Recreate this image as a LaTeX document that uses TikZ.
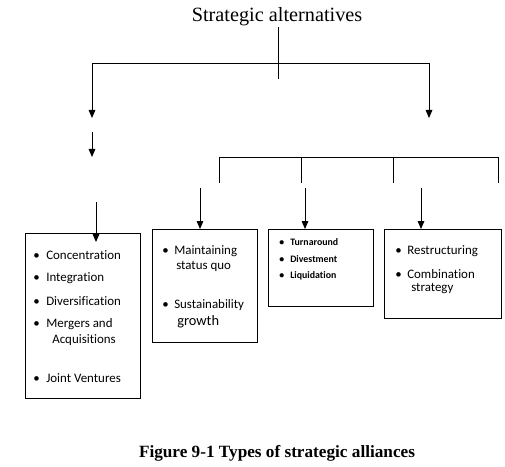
\documentclass[tikz,border=0pt]{standalone}
\usepackage{fontspec}
\setmainfont{Liberation Serif}
\newfontfamily\boxfont[Ligatures=NoCommon]{Carlito}
\usetikzlibrary{arrows.meta}
\newlength{\du}
\setlength{\du}{0.75pt}
\tikzset{
  conn/.style={line width=0.9\du},
  arr/.style={conn,-{Triangle[length=6pt,width=5pt]}},
  sbox/.style={draw,line width=0.9\du,rectangle,inner sep=0pt},
  item/.style={anchor=west,inner sep=0pt,font=\boxfont\fontsize{9.7}{11}\selectfont},
  smallitem/.style={item,font=\boxfont\bfseries\fontsize{7.4}{9}\selectfont},
}
\newcommand{\bul}[1]{\makebox[#1\du][l]{\textbullet}}

\begin{document}
\begin{tikzpicture}[x=\du,y=-\du]
\useasboundingbox (0,0) rectangle (505,466);
% heading
\node[font=\fontsize{15.2}{18}\selectfont] (title) at (277,17){Strategic alternatives};
\coordinate (t0) at (278,27);
\coordinate (t1) at (278,79);
\coordinate (hl) at (92,63);
\coordinate (hr) at (429,63);
\coordinate (al) at (92,118);
\coordinate (ar) at (429,118);
\draw[conn] (t0)--(t1);
\draw[conn] (hl)--(hr);
\draw[arr] (hl)--(al);
\draw[arr] (hr)--(ar);
% second level
\coordinate (l0) at (92,132);
\coordinate (l1) at (92,157);
\draw[arr] (l0)--(l1);
\coordinate (k1) at (219,157);
\coordinate (k2) at (301,157);
\coordinate (k3) at (393,157);
\coordinate (k4) at (498,157);
\coordinate (k1b) at (219,183);
\coordinate (k2b) at (301,183);
\coordinate (k3b) at (393,183);
\coordinate (k4b) at (498,183);
\draw[conn] (k1)--(k4);
\draw[conn] (k1)--(k1b);
\draw[conn] (k2)--(k2b);
\draw[conn] (k3)--(k3b);
\draw[conn] (k4)--(k4b);
% boxes
\node[sbox,minimum width=115\du,minimum height=165\du] (box1) at (82.5,315.5){};
\node[sbox,minimum width=105\du,minimum height=113\du] (box2) at (204.5,285.5){};
\node[sbox,minimum width=105\du,minimum height=77\du] (box3) at (320.5,267.5){};
\node[sbox,minimum width=117\du,minimum height=89\du] (box4) at (442.5,273.5){};
% arrows into boxes
\coordinate (a1) at (96,202);
\coordinate (a1b) at (96,242);
\coordinate (a2) at (200,188);
\coordinate (a2b) at (200,229);
\coordinate (a3) at (305,188);
\coordinate (a3b) at (305,229);
\coordinate (a4) at (421,188);
\coordinate (a4b) at (421,229);
\draw[arr] (a1)--(a1b);
\draw[arr] (a2)--(a2b);
\draw[arr] (a3)--(a3b);
\draw[arr] (a4)--(a4b);
% box1 text
\node[item] (c1) at (33,255){\bul{13}Concentration};
\node[item] (c2) at (33,278){\bul{13}Integration};
\node[item] (c3) at (33,301){\bul{13}Diversification};
\node[item] (c4) at (33,324){\bul{13}Mergers and};
\node[item] (c5) at (52,340){Acquisitions};
\node[item] (c6) at (33,378){\bul{13}Joint Ventures};
% box2 text
\node[item] (m1) at (162,251){\bul{12}Maintaining};
\node[item] (m2) at (176,266){status quo};
\node[item] (m3) at (162,305){\bul{12}Sustainability};
\node[item,font=\boxfont\fontsize{10.8}{12}\selectfont] (m4) at (177,322){growth};
% box3 text
\node[smallitem] (r1) at (279,242){\bul{11}Turnaround};
\node[smallitem] (r2) at (279,259){\bul{11}Divestment};
\node[smallitem] (r3) at (279,276){\bul{11}Liquidation};
% box4 text
\node[item] (s1) at (395,251){\bul{12}Restructuring};
\node[item] (s2) at (395,274){\bul{12}Combination};
\node[item] (s3) at (411,289){strategy};
% caption
\node[font=\bfseries\fontsize{12.9}{15}\selectfont] (cap) at (277,453){Figure 9-1 Types of strategic alliances};
\end{tikzpicture}
\end{document}
